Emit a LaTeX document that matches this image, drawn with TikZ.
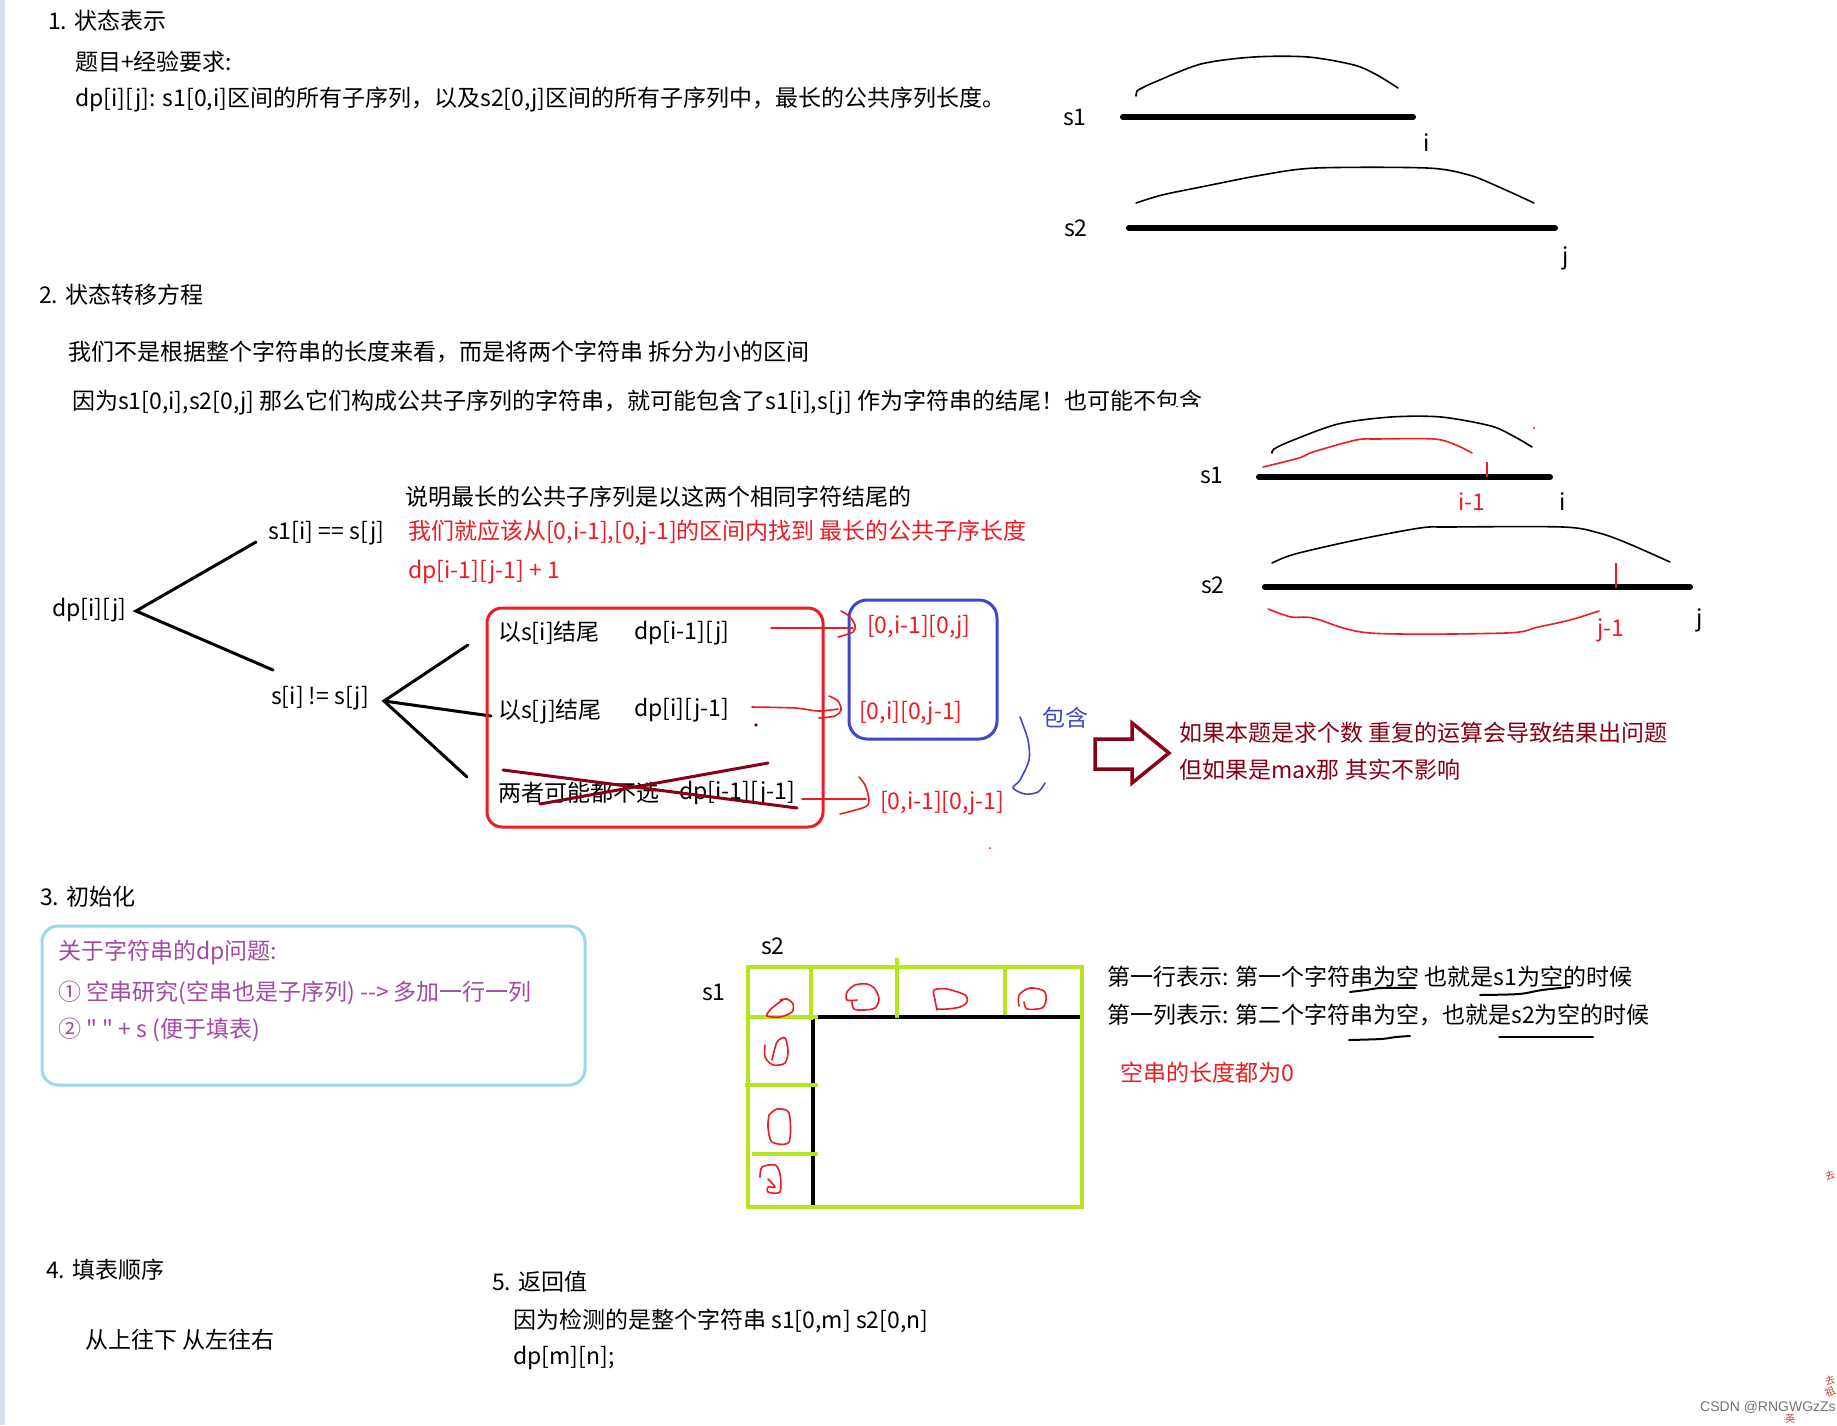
\documentclass[tikz,border=0pt]{standalone}
\usepackage{fontspec}
\usetikzlibrary{calc}
\newfontfamily\cjk{Noto Sans CJK SC}
\newfontfamily\wmfont{Liberation Sans}
\definecolor{myred}{HTML}{ED1C24}
\definecolor{mydred}{HTML}{880015}
\definecolor{myblue}{HTML}{3F48CC}
\definecolor{mypurple}{HTML}{A349A4}
\definecolor{mycyan}{HTML}{99D9EA}
\definecolor{mygreen}{HTML}{B5E61D}
\definecolor{mybar}{HTML}{D8DDEE}
\definecolor{mystamp}{HTML}{B5462A}
\newcommand\fsz{\fontsize{23}{27}\selectfont}
\begin{document}
\begin{tikzpicture}[x=1pt,y=-1pt,
  txt/.style={inner sep=0pt, anchor=west, font=\cjk\fsz},
  ctxt/.style={inner sep=0pt, anchor=center, font=\cjk\fsz},
  thickbar/.style={line width=6pt, line cap=round},
  hand/.style={line width=1.6pt, line cap=round, line join=round},
  treeline/.style={line width=3pt, line cap=round},
  redbox/.style={draw=myred, line width=3pt, rounded corners=15pt},
  bluebox/.style={draw=myblue, line width=3pt, rounded corners=18pt},
  grn/.style={draw=mygreen, line width=3.5pt},
  blk/.style={draw=black, line width=3.5pt},
  scrib/.style={draw=myred, line width=1.6pt, line cap=round, line join=round},
  cross/.style={draw=mydred, line width=3pt, line cap=round},
  uline/.style={draw=black, line width=2pt, line cap=round},
  stamp/.style={inner sep=0pt, font=\cjk\fontsize{10}{12}\selectfont, text=mystamp}]
\useasboundingbox (0,0) rectangle (1837,1425);
\fill[white] (0,0) rectangle (1837,1425);
\fill[mybar] (0,0) rectangle (5,1425);

% ---------- Section 1 ----------
\node[txt] (h1) at (48,21) {1. 状态表示};
\node[txt] (h1a) at (75,62) {题目+经验要求:};
\node[txt] (h1b) at (75,100) {dp[i][j]: s1[0,i]区间的所有子序列，以及s2[0,j]区间的所有子序列中，最长的公共序列长度。};

% top-right sketch
\node[txt] (ts1) at (1063,117) {s1};
\coordinate (ts1a) at (1123,117); \coordinate (ts1b) at (1413,117);
\draw[thickbar] (ts1a) -- (ts1b);
\draw[hand] plot[smooth] coordinates {(1136,96) (1137,91) (1142,88) (1155,82) (1201,64) (1254,57) (1308,57) (1354,65) (1377,75) (1398,88)};
\node[ctxt] (ti) at (1427,143) {i};
\node[txt] (ts2) at (1064,228) {s2};
\coordinate (ts2a) at (1129,228); \coordinate (ts2b) at (1555,228);
\draw[thickbar] (ts2a) -- (ts2b);
\draw[hand] plot[smooth] coordinates {(1136,203) (1162,195) (1201,187) (1262,175) (1316,168) (1427,168) (1469,175) (1499,187) (1534,203)};
\node[ctxt] (tj) at (1566,258) {j};

% ---------- Section 2 ----------
\node[txt] (h2) at (39,295) {2. 状态转移方程};
\node[txt] (h2a) at (68,352) {我们不是根据整个字符串的长度来看，而是将两个字符串 拆分为小的区间};
\node[txt] (h2b) at (72,403) {因为s1[0,i],s2[0,j] 那么它们构成公共子序列的字符串，就可能包含了s1[i],s[j] 作为字符串的结尾！也可能不};
\begin{scope}
\clip ($(h2b.base east)+(0,-30)$) rectangle ($(h2b.base east)+(60,-3)$);
\node[txt, anchor=base west] (h2c) at (h2b.base east) {包含};
\end{scope}

% middle-right sketch
\node[txt] (ms1) at (1200,475) {s1};
\coordinate (ms1a) at (1259,477); \coordinate (ms1b) at (1550,477);
\draw[thickbar] (ms1a) -- (ms1b);
\draw[hand] plot[smooth] coordinates {(1272,453) (1274,449) (1291,441) (1338,424) (1391,417) (1441,417) (1491,426) (1515,437) (1532,447)};
\fill[myred] (1534,428) circle (1.2);
\draw[hand, myred] plot[smooth] coordinates {(1263,467) (1299,458) (1313,452) (1356,440) (1377,439) (1434,439) (1456,445) (1472,453)};
\draw[myred, line width=2pt] (1487,462) -- (1487,477);
\node[ctxt, text=myred] (mi1) at (1472,502) {i-1};
\node[ctxt] (mi) at (1563,502) {i};
\node[txt] (ms2) at (1201,585) {s2};
\coordinate (ms2a) at (1265,587); \coordinate (ms2b) at (1690,587);
\draw[thickbar] (ms2a) -- (ms2b);
\draw[hand] plot[smooth] coordinates {(1272,563) (1295,554) (1356,540) (1420,528) (1449,527) (1563,527) (1599,533) (1627,543) (1670,562)};
\draw[myred, line width=2pt] (1616,563) -- (1616,588);
\draw[hand, myred] plot[smooth] coordinates {(1268,609) (1291,617) (1313,618) (1370,633) (1506,633) (1538,627) (1570,620) (1599,611)};
\node[ctxt, text=myred] (mj1) at (1611,630) {j-1};
\node[ctxt] (mj) at (1700,620) {j};

% tree
\node[txt] (dp) at (52,610) {dp[i][j]};
\coordinate (f1) at (136,611);
\coordinate (b1) at (256,542);
\coordinate (b2) at (273,670);
\draw[treeline] (b1) -- (f1) -- (b2);
\node[txt] (eq) at (268,533) {s1[i] == s[j]};
\node[txt] (ne) at (271,698) {s[i] != s[j]};
\coordinate (f2) at (384,701);
\coordinate (c1) at (468,645);
\coordinate (c2) at (491,716);
\coordinate (c3) at (467,777);
\draw[treeline] (c1) -- (f2) -- (c3);
\draw[treeline] (f2) -- (c2);

\node[txt] (ex1) at (405,497) {说明最长的公共子序列是以这两个相同字符结尾的};
\node[txt, text=myred] (ex2) at (408,533) {我们就应该从[0,i-1],[0,j-1]的区间内找到 最长的公共子序长度};
\node[txt, text=myred] (ex3) at (408,572) {dp[i-1][j-1] + 1};

% red box
\node[redbox, minimum width=336pt, minimum height=219pt, inner sep=0pt] (rbox) at (655,717.5) {};
\node[txt] (r1a) at (498,633) {以s[i]结尾};
\node[txt] (r1b) at (634,633) {dp[i-1][j]};
\node[txt] (r2a) at (498,712) {以s[j]结尾};
\node[txt] (r2b) at (634,710) {dp[i][j-1]};
\node[txt] (r3a) at (498,793) {两者可能都不选};
\node[txt] (r3b) at (679,793) {dp[i-1][j-1]};
\coordinate (x1a) at (503,770); \coordinate (x1b) at (797,808);
\coordinate (x2a) at (540,804); \coordinate (x2b) at (768,763);
\draw[cross] (x1a) -- (x1b);
\draw[cross] (x2a) -- (x2b);

% blue box
\node[bluebox, minimum width=148pt, minimum height=139pt, inner sep=0pt] (bbox) at (923,669.5) {};
\node[txt, text=myred] (q1) at (867,627) {[0,i-1][0,j]};
\node[txt, text=myred] (q2) at (859,713) {[0,i][0,j-1]};
\node[txt, text=myred] (q3) at (880,803) {[0,i-1][0,j-1]};

% red hand arrows
\coordinate (a1s) at (771,628); \coordinate (a1e) at (853,628);
\draw[hand, myred] (a1s) -- (a1e);
\draw[hand, myred] plot[smooth] coordinates {(841,611) (849,616) (855,625) (853,632) (838,637)};
\coordinate (a2s) at (752,707); \coordinate (a2e) at (838,709);
\draw[hand, myred] plot[smooth] coordinates {(a2s) (795,708) (818,711) (a2e)};
\draw[hand, myred] plot[smooth] coordinates {(829,696) (838,701) (841,710) (835,716) (819,718)};
\coordinate (a3s) at (802,799); \coordinate (a3e) at (866,799);
\draw[hand, myred] (a3s) -- (a3e);
\draw[hand, myred] plot[smooth] coordinates {(859,777) (865,785) (869,800) (865,807) (840,814)};
\fill[mydred] (756,725) circle (1.8);
\fill[myred] (990,848) circle (1);

% blue curve
\draw[hand, myblue] plot[smooth] coordinates {(1020,717) (1028,740) (1029,760) (1020,780) (1013,788) (1025,794) (1038,792) (1045,783)};
\node[txt, text=myblue] (bao) at (1042,718) {包含};

% big hollow arrow
\draw[mydred, line width=3.5pt, line join=miter] (1095,739) -- (1132,739) -- (1132,723) -- (1169,753) -- (1132,783) -- (1132,769) -- (1095,769) -- cycle;
\node[txt, text=mydred] (dr1) at (1179,733) {如果本题是求个数 重复的运算会导致结果出问题};
\node[txt, text=mydred] (dr2) at (1179,770) {但如果是max那 其实不影响};

% ---------- Section 3 ----------
\node[txt] (h3) at (40,897) {3. 初始化};
\draw[draw=mycyan, line width=3pt, rounded corners=16pt] (42,926) rectangle (585,1085);
\node[txt, text=mypurple] (p1) at (58,952) {关于字符串的dp问题:};
\node[txt, text=mypurple] (p2) at (58,993) {① 空串研究(空串也是子序列) --> 多加一行一列};
\node[txt, text=mypurple] (p3) at (58,1030) {② " " + s (便于填表)};

% grid
\node[txt] (gs2) at (761,946) {s2};
\node[txt] (gs1) at (702,992) {s1};
\draw[blk] (818,1017) -- (1080,1017);
\draw[blk] (813,1018) -- (813,1207);
\draw[grn] (748,967) rectangle (1082,1207);
\draw[grn] (811,967) -- (811,1020);
\draw[grn] (748,1017) -- (818,1017);
\draw[grn] (897,958) -- (897,1018);
\draw[grn] (1005,967) -- (1005,1015);
\draw[grn] (745,1085) -- (818,1085);
\draw[grn] (752,1154) -- (818,1154);
\draw[scrib, shift={(780,1007)}] plot[smooth] coordinates {(4,-8) (-3,-3) (-10,3) (-13,9) (0,10) (12,5) (13,-3) (7,-8) (0,-7)};
\draw[scrib, shift={(863,997)}] plot[smooth] coordinates {(-6,3) (-16,3) (-16,-5) (-8,-12) (4,-13) (12,-8) (16,2) (12,11) (1,13) (-9,12) (-11,5)};
\draw[scrib, shift={(950,1000)}] plot[smooth] coordinates {(-13,10) (-15,0) (-16,-10) (-3,-11) (15,-5) (17,2) (10,7) (-3,9) (-13,9)};
\draw[scrib, shift={(1032,999)}] plot[smooth] coordinates {(-13,7) (-13,-4) (-2,-11) (12,-8) (14,1) (10,9) (-5,10) (-8,3)};
\draw[scrib, shift={(776,1051)}] plot[smooth] coordinates {(-4,9) (1,-9) (9,-13) (12,0) (9,12) (-3,14) (-11,6) (-11,-6)};
\draw[scrib, shift={(778,1125)}] plot[smooth] coordinates {(-9,-10) (-1,-16) (11,-12) (11,17) (-6,17) (-10,2) (-9,-10)};
\draw[scrib, shift={(770,1178)}] plot[smooth] coordinates {(-2,1) (5,9) (-2,9) (-2,14) (10,14) (10,-4) (5,-13) (-8,-11) (-10,-1)};

\node[txt] (g1) at (1107,977) {第一行表示: 第一个字符串为空 也就是s1为空的时候};
\node[txt] (g2) at (1107,1015) {第一列表示: 第二个字符串为空，也就是s2为空的时候};
\draw[uline] plot[smooth] coordinates {(1350,992) (1366,990) (1381,988) (1415,988)};
\draw[uline] plot[smooth] coordinates {(1480,995) (1519,994) (1542,990) (1570,987)};
\draw[uline] plot[smooth] coordinates {(1349,1040) (1381,1039) (1396,1037) (1410,1036)};
\draw[uline] (1499,1037) -- (1593,1037);
\node[txt, text=myred] (g3) at (1120,1073) {空串的长度都为0};

% ---------- Sections 4 and 5 ----------
\node[txt] (h4) at (46,1270) {4. 填表顺序};
\node[txt] (h4a) at (85,1340) {从上往下 从左往右};
\node[txt] (h5) at (492,1282) {5. 返回值};
\node[txt] (h5a) at (513,1321) {因为检测的是整个字符串 s1[0,m] s2[0,n]};
\node[txt] (h5b) at (513,1358) {dp[m][n];};

% watermark and stickers
\node[inner sep=0pt, anchor=west, font=\wmfont\fontsize{14}{16}\selectfont, text=black!55] (wm) at (1700,1407) {CSDN @RNGWGzZs};
\node[stamp, rotate=15] (st1) at (1830,1175) {去};
\node[stamp, rotate=15] (st2) at (1830,1380) {去};
\node[stamp, rotate=25] (st3) at (1830,1392) {祖};
\node[stamp] (st4) at (1790,1419) {英};
\end{tikzpicture}
\end{document}
